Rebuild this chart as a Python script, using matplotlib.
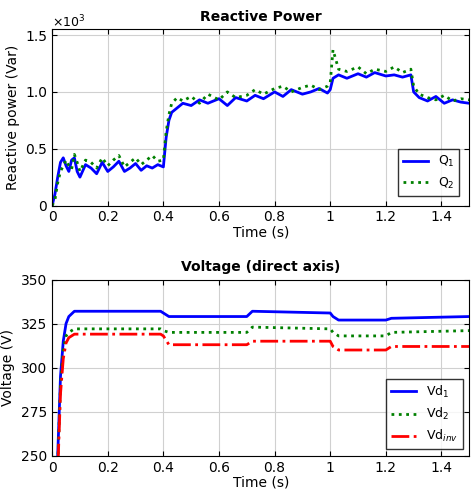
import matplotlib
matplotlib.use("Agg")
import matplotlib.pyplot as plt

t_q = [0,0.01,0.02,0.03,0.04,0.05,0.06,0.07,0.08,0.09,0.10,0.12,0.14,0.16,0.18,0.20,0.22,0.24,0.26,0.28,0.30,0.32,0.34,0.36,0.38,0.40,0.41,0.42,0.43,0.45,0.47,0.50,0.53,0.56,0.60,0.63,0.66,0.70,0.73,0.76,0.80,0.83,0.86,0.90,0.93,0.96,0.99,1.00,1.01,1.03,1.06,1.10,1.13,1.16,1.20,1.23,1.26,1.29,1.30,1.32,1.35,1.38,1.41,1.44,1.47,1.50]
q1 = [0.0,0.1,0.25,0.38,0.42,0.35,0.3,0.4,0.42,0.3,0.25,0.36,0.33,0.28,0.38,0.3,0.34,0.39,0.3,0.33,0.37,0.31,0.35,0.33,0.36,0.34,0.6,0.75,0.82,0.86,0.9,0.88,0.93,0.9,0.94,0.88,0.95,0.92,0.97,0.94,1.0,0.96,1.02,0.98,1.0,1.03,0.99,1.02,1.12,1.15,1.12,1.16,1.13,1.17,1.14,1.15,1.13,1.15,1.0,0.95,0.92,0.96,0.9,0.93,0.91,0.9]
q2 = [0.0,0.05,0.2,0.3,0.35,0.4,0.35,0.32,0.45,0.38,0.3,0.4,0.38,0.33,0.42,0.35,0.4,0.44,0.34,0.38,0.42,0.36,0.4,0.44,0.39,0.4,0.65,0.8,0.9,0.95,0.92,0.96,0.9,0.98,0.93,1.0,0.95,0.97,1.02,0.98,1.03,1.05,1.0,1.04,1.06,1.02,1.05,1.08,1.37,1.2,1.18,1.22,1.16,1.2,1.18,1.22,1.17,1.2,1.05,0.98,0.95,0.93,0.97,0.92,0.94,0.93]

t_v = [0,0.01,0.02,0.03,0.04,0.05,0.06,0.08,0.10,0.2,0.39,0.40,0.42,0.70,0.72,1.0,1.01,1.03,1.2,1.22,1.5]
vd1 = [150,200,250,295,315,325,329,332,332,332,332,331,329,329,332,331,329,327,327,328,329]
vd2 = [150,200,245,290,310,318,320,322,322,322,322,321,320,320,323,322,320,318,318,320,321]
vdi = [150,195,240,285,305,314,317,319,319,319,319,318,313,313,315,315,312,310,310,312,312]

fig, (a1, a2) = plt.subplots(2, 1, figsize=(4.74, 4.90), dpi=100)
fig.subplots_adjust(left=0.11, right=0.99, top=0.94, bottom=0.07, hspace=0.42)
a1.plot(t_q, q1, color='#0000ff', lw=2, label='Q$_1$')
a1.plot(t_q, q2, color='#008000', lw=2, ls=':', label='Q$_2$')
a1.set_xlim(0, 1.5); a1.set_ylim(0, 1.55)
a1.set_yticks([0, 0.5, 1.0, 1.5]); a1.set_yticklabels(['0', '0.5', '1.0', '1.5'])
a1.set_title('Reactive Power', fontweight='bold', fontsize=10)
a1.set_ylabel('Reactive power (Var)')
a1.set_xlabel('Time (s)', labelpad=1)
a1.text(0, 1.01, r'$\times10^3$', transform=a1.transAxes, fontsize=9)
a1.legend(loc='lower right', fancybox=False, edgecolor='k', fontsize=9, borderaxespad=0.8)

a2.plot(t_v, vd1, color='#0000ff', lw=2, label='Vd$_1$')
a2.plot(t_v, vd2, color='#008000', lw=2, ls=':', label='Vd$_2$')
a2.plot(t_v, vdi, color='#ff0000', lw=2, ls='-.', label='Vd$_{inv}$')
a2.set_xlim(0, 1.5); a2.set_ylim(250, 350)
a2.set_yticks([250, 275, 300, 325, 350])
a2.set_title('Voltage (direct axis)', fontweight='bold', fontsize=10)
a2.set_ylabel('Voltage (V)')
a2.set_xlabel('Time (s)', labelpad=1)
a2.legend(loc='lower right', fancybox=False, edgecolor='k', fontsize=9, borderaxespad=0.5)
for a in (a1, a2):
    a.set_xticks([0, 0.2, 0.4, 0.6, 0.8, 1.0, 1.2, 1.4])
    a.set_xticklabels(['0', '0.2', '0.4', '0.6', '0.8', '1', '1.2', '1.4'])
    a.grid(True, color='#d0d0d0')
    a.tick_params(direction='in', top=True, right=True, labelsize=10)
fig.savefig('out.png')
